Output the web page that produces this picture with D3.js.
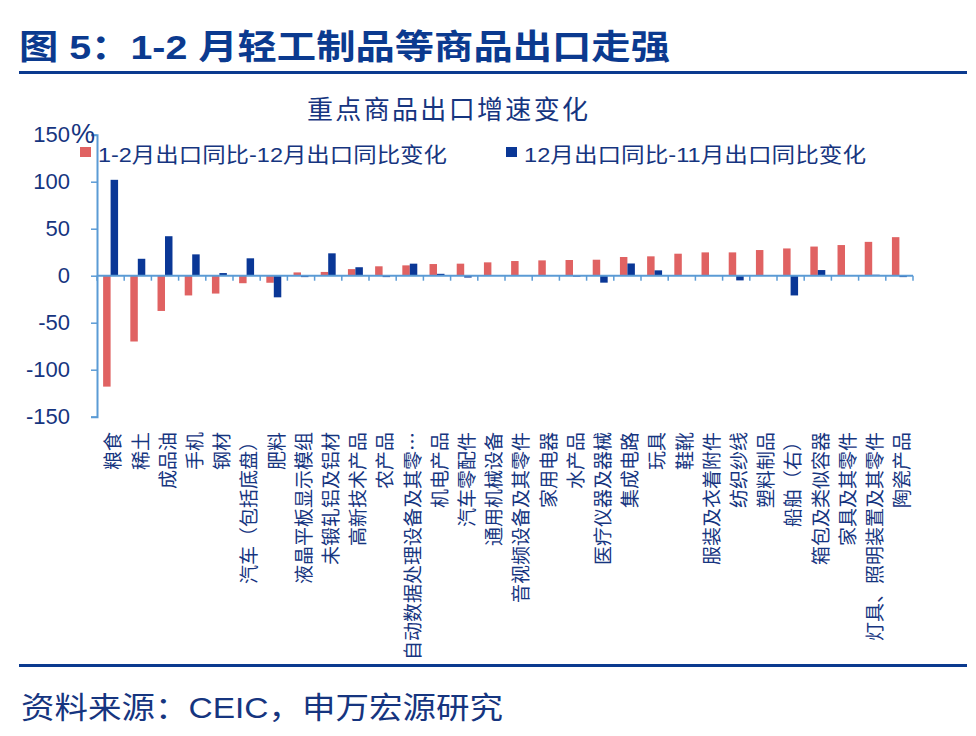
<!DOCTYPE html>
<html>
<head>
<meta charset="utf-8">
<script src="https://cdn.jsdelivr.net/npm/d3@7"></script>
<style>
  body { margin: 0; background: #fff; }
  svg { display: block; }
</style>
</head>
<body>
<svg id="chart" width="976" height="736"></svg>
<script>
// 商品类别
const categories = [
  "粮食", "稀土", "成品油", "手机", "钢材", "汽车（包括底盘）", "肥料",
  "液晶平板显示模组", "未锻轧铝及铝材", "高新技术产品", "农产品",
  "自动数据处理设备及其零…", "机电产品", "汽车零配件", "通用机械设备",
  "音视频设备及其零件", "家用电器", "水产品", "医疗仪器及器械", "集成电路",
  "玩具", "鞋靴", "服装及衣着附件", "纺织纱线", "塑料制品", "船舶（右）",
  "箱包及类似容器", "家具及其零件", "灯具、照明装置及其零件", "陶瓷产品"
];

// 1-2月出口同比-12月出口同比变化 (%)
const chgJanFeb = [
  -118, -70, -37.5, -21, -19, -8, -7.5, 3.5, 4, 7, 10,
  11, 12.4, 12.8, 14.2, 15.6, 16.3, 16.7, 17, 19.9,
  20.6, 23.4, 24.8, 24.8, 27.3, 29, 31, 32.6, 36, 41
];

// 12月出口同比-11月出口同比变化 (%)
const chgDec = [
  102, 18, 42, 22.7, 2.8, 18.5, -23, -1.5, 23.8, 9, -1.5,
  12.8, 2, -2, 0, 0, 0, -1, -7.4, 13,
  5.7, 0, 0, -5, 0, -21, 6, 0, 1, -1.5
];

const seriesNames = ["1-2月出口同比-12月出口同比变化", "12月出口同比-11月出口同比变化"];
const yTicks = [-150, -100, -50, 0, 50, 100, 150];

const colRed = "#e06262";
const colBlue = "#0a3796";
const navy = "#16357f";
const axisCol = "#5b9bd5";
const cjk = "'Noto Sans CJK SC', sans-serif";
const latin = "'Liberation Sans', 'Noto Sans CJK SC', sans-serif";

const svg = d3.select("#chart");

// 标题 + 上下横线
svg.append("text")
  .attr("x", 19).attr("y", 59)
  .attr("font-family", latin).attr("font-weight", "bold")
  .attr("font-size", 34).attr("fill", "#0b3a8f")
  .attr("textLength", 651).attr("lengthAdjust", "spacingAndGlyphs")
  .text("图 5：1-2 月轻工制品等商品出口走强");

svg.append("line")
  .attr("x1", 19).attr("x2", 967).attr("y1", 72.5).attr("y2", 72.5)
  .attr("stroke", "#0b3a8f").attr("stroke-width", 3);

svg.append("line")
  .attr("x1", 19).attr("x2", 967).attr("y1", 665.5).attr("y2", 665.5)
  .attr("stroke", "#0b3a8f").attr("stroke-width", 3);

svg.append("text")
  .attr("x", 21).attr("y", 718)
  .attr("font-family", latin).attr("font-size", 30).attr("fill", navy)
  .attr("textLength", 482).attr("lengthAdjust", "spacingAndGlyphs")
  .text("资料来源：CEIC，申万宏源研究");

// 图表标题
svg.append("text")
  .attr("x", 307).attr("y", 119)
  .attr("font-family", cjk).attr("font-size", 26).attr("fill", navy)
  .attr("textLength", 281).attr("lengthAdjust", "spacing")
  .text("重点商品出口增速变化");

// 比例尺
const x0 = d3.scaleBand()
  .domain(categories)
  .range([97, 913])
  .paddingInner(0.45)
  .paddingOuter(0.225);

const x1 = d3.scaleBand()
  .domain([0, 1])
  .range([0, x0.bandwidth()]);

const y = d3.scaleLinear()
  .domain([-150, 150])
  .range([416.7, 134.7]);

// 柱子
const g = svg.append("g");
categories.forEach((c, i) => {
  [chgJanFeb[i], chgDec[i]].forEach((v, s) => {
    if (v === 0) return;
    g.append("rect")
      .attr("x", x0(c) + x1(s))
      .attr("width", x1.bandwidth())
      .attr("y", y(Math.max(0, v)))
      .attr("height", Math.abs(y(v) - y(0)))
      .attr("fill", s === 0 ? colRed : colBlue);
  });
});

// Y 轴
const yAxis = svg.append("g")
  .attr("transform", "translate(97,0)")
  .call(d3.axisLeft(y).tickValues(yTicks).tickSize(6).tickPadding(21).tickFormat(d => String(d)));
yAxis.select(".domain").attr("stroke", axisCol).attr("stroke-width", 2);
yAxis.selectAll(".tick line").attr("stroke", axisCol).attr("stroke-width", 1.5);
yAxis.selectAll(".tick text")
  .attr("font-family", latin).attr("font-size", 22).attr("fill", navy);

svg.append("text")
  .attr("x", 71).attr("y", 143)
  .attr("font-family", latin).attr("font-size", 27).attr("fill", navy)
  .text("%");

// X 轴（零线 + 分隔刻度）
const xAxis = svg.append("g");
xAxis.append("line")
  .attr("x1", x0.range()[0]).attr("x2", x0.range()[1])
  .attr("y1", y(0)).attr("y2", y(0))
  .attr("stroke", axisCol).attr("stroke-width", 2);
xAxis.selectAll(".xtick")
  .data(d3.range(categories.length + 1))
  .join("line")
  .attr("class", "xtick")
  .attr("x1", i => x0.range()[0] + i * x0.step())
  .attr("x2", i => x0.range()[0] + i * x0.step())
  .attr("y1", y(0)).attr("y2", y(0) + 5)
  .attr("stroke", axisCol).attr("stroke-width", 1.5);

// 类别标签（竖排）
svg.append("g")
  .selectAll("text")
  .data(categories)
  .join("text")
  .attr("transform", d => `translate(${x0(d) + x0.bandwidth() / 2 + 3},432) rotate(-90)`)
  .attr("text-anchor", "end")
  .attr("dy", "0.36em")
  .attr("font-family", cjk).attr("font-size", 19).attr("fill", navy)
  .text(d => d);

// 图例
const legend = [
  { name: seriesNames[0], color: colRed, sx: 80, tx: 98, len: 349 },
  { name: seriesNames[1], color: colBlue, sx: 506, tx: 524, len: 342 }
];
legend.forEach(l => {
  svg.append("rect")
    .attr("x", l.sx).attr("y", 147).attr("width", 11).attr("height", 10)
    .attr("fill", l.color);
  svg.append("text")
    .attr("x", l.tx).attr("y", 162)
    .attr("font-family", latin).attr("font-size", 21).attr("fill", navy)
    .attr("textLength", l.len).attr("lengthAdjust", "spacingAndGlyphs")
    .text(l.name);
});
</script>
</body>
</html>
